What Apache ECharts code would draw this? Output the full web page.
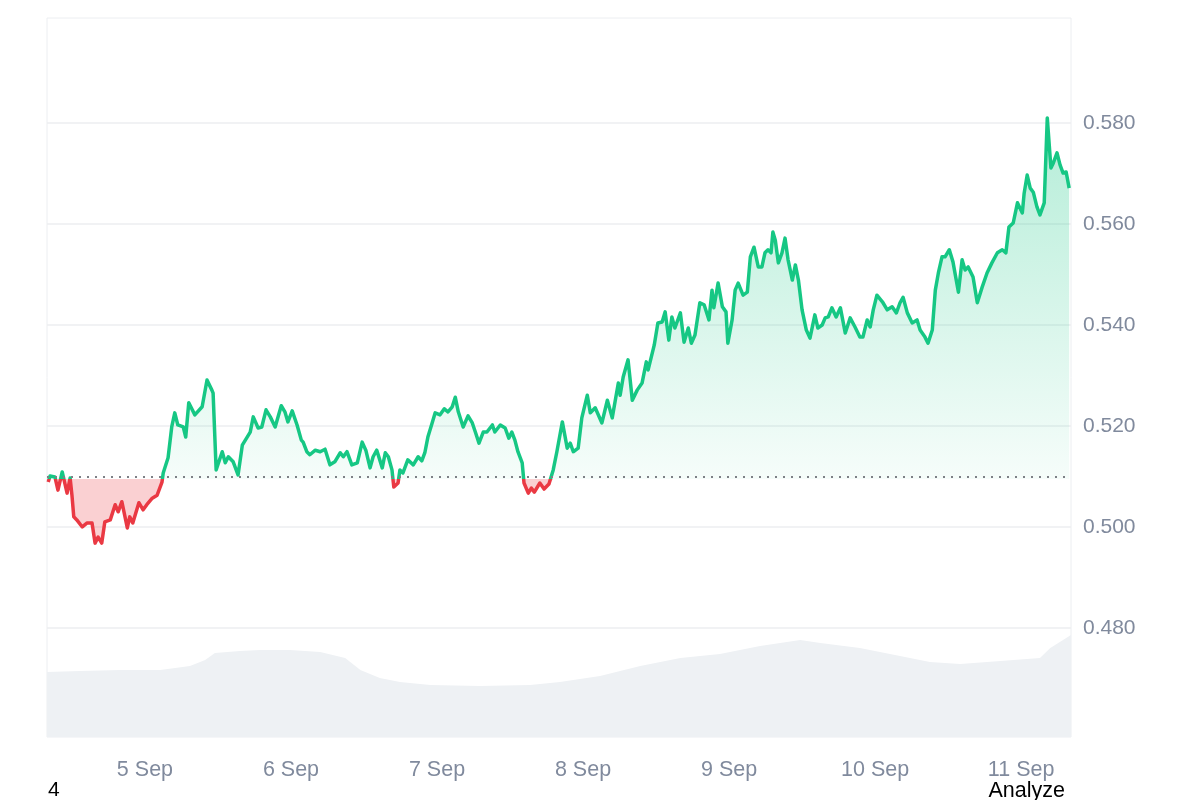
<!DOCTYPE html>
<html><head><meta charset="utf-8">
<script src="https://cdn.jsdelivr.net/npm/echarts@6/dist/echarts.min.js"></script>
<style>html,body{margin:0;padding:0;background:#fff}#c{width:1200px;height:800px}</style>
</head><body><div id="c"></div>
<script>
// hours since 4 Sep 00:00
const baseline = 0.5095;
const hours = [
 8.1,8.4,9.2,9.7,10.4,10.7,11.2,11.7,12.0,12.3,
 12.8,13.7,14.5,15.3,15.8,16.3,16.9,17.4,18.3,19.1,
 19.6,20.2,21.1,21.5,22.0,23.0,23.7,24.3,25.2,26.0,
 26.8,27.0,27.8,28.4,28.9,29.4,30.3,30.7,31.2,32.2,
 33.4,34.2,35.0,35.2,35.7,36.0,36.7,37.2,37.7,38.5,
 39.3,40.0,40.8,41.3,41.8,42.6,43.2,43.9,44.6,45.4,
 46.4,47.0,47.5,48.2,49.0,49.7,50.0,50.6,51.1,52.0,
 52.8,53.6,54.4,55.2,56.1,56.6,57.2,58.0,58.9,59.7,
 60.3,61.0,61.5,62.1,63.0,63.5,64.0,64.6,64.9,65.6,
 65.9,66.4,67.2,68.1,68.9,69.5,70.0,70.5,71.2,71.7,
 72.5,73.2,73.8,74.5,75.0,75.5,76.3,77.1,77.8,78.3,
 78.9,79.6,80.2,81.1,81.5,82.4,83.2,83.8,84.3,84.8,
 85.3,86.0,86.3,87.0,87.5,88.0,88.9,89.6,90.4,91.1,
 91.7,92.6,93.4,93.9,94.4,95.2,95.8,96.7,97.2,98.0,
 99.1,100.0,100.8,101.8,102.1,102.6,103.4,104.1,104.9,105.7,
 106.4,106.7,107.7,108.3,109.0,109.5,110.1,110.6,111.1,112.0,
 112.6,113.3,113.8,114.4,115.2,115.9,116.7,117.2,117.5,118.2,
 118.9,119.5,119.8,120.5,121.0,121.5,122.3,123.0,123.5,124.1,
 124.8,125.4,125.9,126.4,126.9,127.2,127.6,128.1,128.7,129.2,
 129.7,130.4,130.9,131.4,132.0,132.7,133.3,134.1,134.6,135.3,
 135.8,136.3,136.9,137.6,138.3,139.1,139.9,140.7,141.5,142.0,
 142.7,143.2,143.7,144.3,145.2,146.0,146.8,147.5,148.1,148.6,
 149.3,150.1,150.9,151.4,152.2,152.7,153.4,153.9,154.4,155.0,
 155.5,156.2,156.8,157.7,158.3,158.8,159.3,160.1,160.8,161.6,
 162.4,163.2,164.1,164.9,165.5,166.0,166.7,167.4,168.2,168.5,
 169.0,169.5,170.0,170.6,171.1,171.8,172.3,172.9,173.3,173.9,
 174.4,174.9,175.4,175.9
];
const prices = [
 0.5089,0.5101,0.5099,0.5073,0.5109,0.5111,0.5067,0.5097,0.5063,0.5020,
 0.5014,0.5000,0.5008,0.5008,0.4968,0.4980,0.4968,0.5010,0.5014,0.5044,
 0.5030,0.5050,0.4998,0.5020,0.5008,0.5048,0.5034,0.5044,0.5057,0.5063,
 0.5089,0.5107,0.5137,0.5198,0.5226,0.5202,0.5198,0.5178,0.5246,0.5222,
 0.5238,0.5291,0.5271,0.5265,0.5113,0.5113,0.5149,0.5127,0.5139,0.5129,
 0.5103,0.5162,0.5178,0.5188,0.5218,0.5196,0.5198,0.5232,0.5218,0.5198,
 0.5240,0.5228,0.5208,0.5230,0.5202,0.5172,0.5168,0.5149,0.5143,0.5152,
 0.5149,0.5154,0.5123,0.5129,0.5147,0.5139,0.5149,0.5123,0.5127,0.5168,
 0.5152,0.5117,0.5139,0.5152,0.5117,0.5147,0.5139,0.5113,0.5079,0.5087,
 0.5113,0.5107,0.5133,0.5123,0.5139,0.5131,0.5147,0.5178,0.5206,0.5226,
 0.5222,0.5234,0.5228,0.5238,0.5257,0.5228,0.5198,0.5220,0.5206,0.5188,
 0.5166,0.5188,0.5188,0.5202,0.5188,0.5202,0.5196,0.5176,0.5188,0.5172,
 0.5149,0.5127,0.5087,0.5067,0.5077,0.5069,0.5087,0.5075,0.5085,0.5113,
 0.5149,0.5208,0.5156,0.5166,0.5149,0.5156,0.5216,0.5261,0.5226,0.5236,
 0.5206,0.5251,0.5216,0.5285,0.5261,0.5297,0.5331,0.5251,0.5271,0.5285,
 0.5327,0.5311,0.5360,0.5404,0.5406,0.5426,0.5370,0.5416,0.5394,0.5424,
 0.5366,0.5394,0.5364,0.5380,0.5444,0.5440,0.5410,0.5469,0.5434,0.5483,
 0.5436,0.5426,0.5364,0.5410,0.5469,0.5483,0.5459,0.5465,0.5535,0.5554,
 0.5515,0.5515,0.5543,0.5549,0.5543,0.5584,0.5568,0.5523,0.5543,0.5572,
 0.5529,0.5489,0.5519,0.5489,0.5430,0.5390,0.5374,0.5420,0.5394,0.5400,
 0.5414,0.5416,0.5434,0.5416,0.5434,0.5384,0.5414,0.5396,0.5376,0.5376,
 0.5410,0.5396,0.5430,0.5459,0.5446,0.5430,0.5436,0.5424,0.5444,0.5455,
 0.5424,0.5404,0.5410,0.5390,0.5376,0.5364,0.5390,0.5469,0.5503,0.5535,
 0.5535,0.5549,0.5525,0.5465,0.5529,0.5509,0.5515,0.5495,0.5444,0.5475,
 0.5503,0.5523,0.5543,0.5549,0.5543,0.5594,0.5602,0.5642,0.5622,0.5661,
 0.5697,0.5671,0.5663,0.5634,0.5618,0.5642,0.5810,0.5711,0.5721,0.5741,
 0.5717,0.5701,0.5703,0.5671
];
const volHours = [7.9,13.3,19.9,26.5,31.4,33.9,35.5,39.6,42.9,47.8,52.8,56.9,59.4,62.6,65.9,70.9,79.1,87.3,92.2,98.8,105.4,112.0,118.5,125.1,131.7,135.0,141.5,148.1,153.0,158.0,164.6,171.1,172.8,176.2];
const volumes = [650,660,670,670,710,770,840,860,870,870,850,790,670,590,550,520,510,520,550,610,710,790,830,910,970,940,890,810,750,730,760,790,890,1020];
const dayTicks = [24,48,72,96,120,144,168];
const dayLabels = ['5 Sep','6 Sep','7 Sep','8 Sep','9 Sep','10 Sep','11 Sep'];
const priceTicks = [0.48,0.50,0.52,0.54,0.56,0.58];

const FONT = "'Liberation Sans', Arial, sans-serif";
const GREEN = '#16c784', RED = '#ea3943';

const pricePts = hours.map((h,i)=>[h, prices[i]]);
const upPts = hours.map((h,i)=>[h, Math.max(prices[i], baseline)]);
const downPts = hours.map((h,i)=>[h, Math.min(prices[i], baseline)]);
const volPts = volHours.map((h,i)=>[h, volumes[i]]);

const chart = echarts.init(document.getElementById('c'), null, {renderer:'canvas'});
chart.setOption({
  animation:false,
  backgroundColor:'#fff',
  grid:{left:47,right:129,top:18,bottom:63,show:true,borderColor:'#eceef1',borderWidth:1,backgroundColor:'transparent'},
  xAxis:{type:'value',min:7.9,max:176.2,
    axisLine:{show:false},axisTick:{show:false,customValues:dayTicks},splitLine:{show:false},
    axisLabel:{customValues:dayTicks,formatter:v=>dayLabels[dayTicks.indexOf(Math.round(v))]||'',
      color:'#808a9d',fontSize:21.5,fontFamily:FONT,margin:22}},
  yAxis:[{type:'value',position:'right',min:0.4584,max:0.6008,
    axisLine:{show:false},axisTick:{show:false,customValues:priceTicks},
    splitLine:{show:true,lineStyle:{color:'#eceef1',width:1.5}},
    axisLabel:{customValues:priceTicks,formatter:v=>v.toFixed(3),color:'#808a9d',fontSize:21,fontFamily:FONT,margin:12}},
    {type:'value',min:0,max:7190,show:false,splitLine:{show:false}}],
  graphic:[
    {type:'text',left:48,top:780,style:{text:'4',fontSize:21,fontFamily:FONT,fill:'#000'}},
    {type:'text',right:135,top:780,style:{text:'Analyze',fontSize:21.5,fontFamily:FONT,fill:'#000'}}
  ],
  series:[
    {type:'line',yAxisIndex:1,data:volPts,symbol:'none',silent:true,z:1,
      lineStyle:{width:0},itemStyle:{color:'#eef1f4'},areaStyle:{color:'#eef1f4',opacity:1}},
    {type:'line',data:upPts,symbol:'none',silent:true,z:2,lineStyle:{width:0},
      areaStyle:{origin:baseline,opacity:1,color:new echarts.graphic.LinearGradient(0,0,0,1,[
        {offset:0,color:'rgba(22,199,132,0.32)'},{offset:1,color:'rgba(22,199,132,0.04)'}])}},
    {type:'line',data:downPts,symbol:'none',silent:true,z:2,lineStyle:{width:0},
      areaStyle:{origin:baseline,opacity:1,color:'rgba(234,57,67,0.24)'}},
    {type:'line',data:pricePts,symbol:'none',z:3,lineStyle:{width:3.5,color:GREEN,join:'round'},itemStyle:{color:GREEN},
      markLine:{silent:true,symbol:'none',label:{show:false},
        lineStyle:{type:[2,6],color:'#7d8086',width:2},data:[{yAxis:baseline}]}}
  ]
});
// split line colour at the baseline, using the axis scale
const yb = chart.convertToPixel({yAxisIndex:0}, baseline);
const H = 800, f = yb / H;
chart.setOption({series:[{},{},{},{lineStyle:{color:new echarts.graphic.LinearGradient(0,0,0,H,[
  {offset:0,color:GREEN},{offset:f,color:GREEN},{offset:f,color:RED},{offset:1,color:RED}],true)}}]});
</script></body></html>
